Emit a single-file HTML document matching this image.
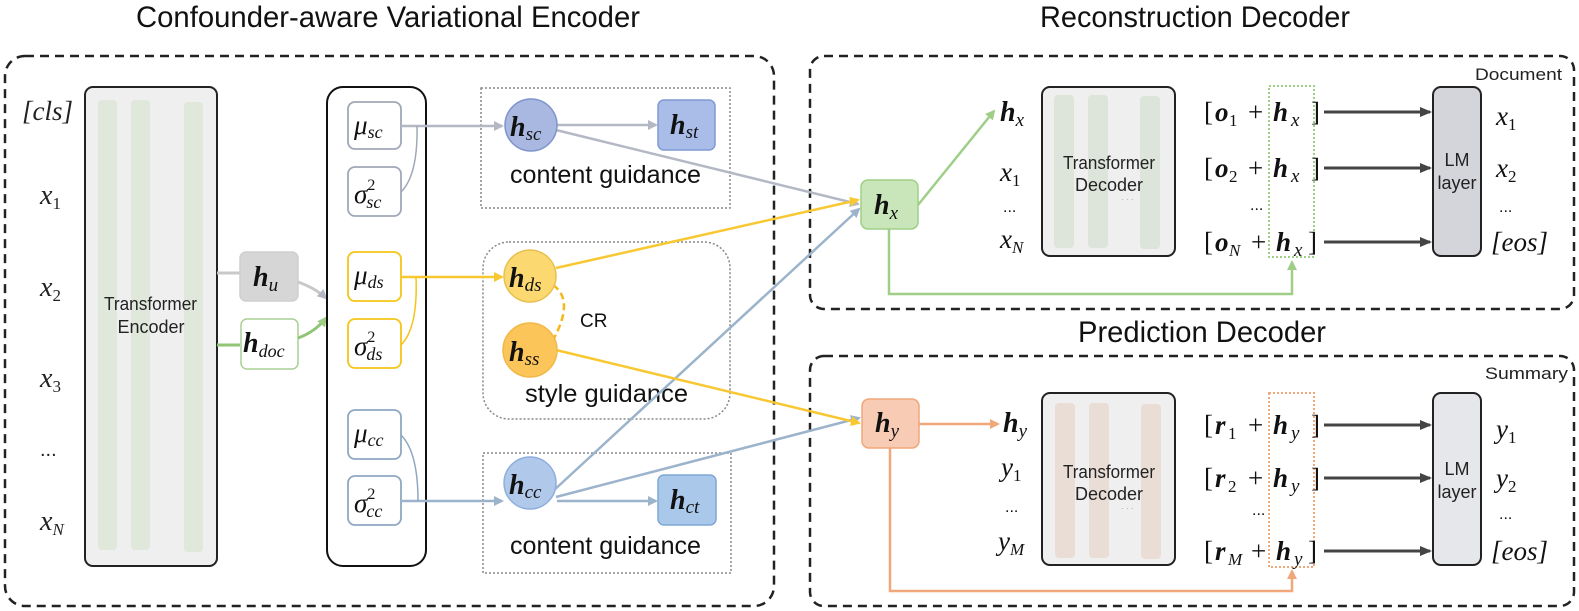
<!DOCTYPE html>
<html><head><meta charset="utf-8"><style>
html,body{margin:0;padding:0;background:#fff;}
svg{display:block;}
.t{font-family:"Liberation Sans Narrow","Liberation Sans",sans-serif;}
.m{font-family:"Liberation Serif",serif;font-style:italic;}
.n{font-family:"Liberation Serif",serif;font-style:normal;}
.b{font-family:"Liberation Serif",serif;font-style:italic;font-weight:bold;}
</style></head><body>
<svg width="1579" height="611" viewBox="0 0 1579 611" xmlns="http://www.w3.org/2000/svg">
<defs>
<marker id="ag" markerWidth="10" markerHeight="10" refX="8" refY="5" orient="auto" markerUnits="userSpaceOnUse"><path d="M0,0 L10,5 L0,10 z" fill="#b3b8c4"/></marker>
<marker id="ay" markerWidth="10" markerHeight="10" refX="8" refY="5" orient="auto" markerUnits="userSpaceOnUse"><path d="M0,0 L10,5 L0,10 z" fill="#f7c832"/></marker>
<marker id="ab" markerWidth="10" markerHeight="10" refX="8" refY="5" orient="auto" markerUnits="userSpaceOnUse"><path d="M0,0 L10,5 L0,10 z" fill="#9cb3cc"/></marker>
<marker id="agr" markerWidth="10" markerHeight="10" refX="8" refY="5" orient="auto" markerUnits="userSpaceOnUse"><path d="M0,0 L10,5 L0,10 z" fill="#9fcf86"/></marker>
<marker id="ao" markerWidth="10" markerHeight="10" refX="8" refY="5" orient="auto" markerUnits="userSpaceOnUse"><path d="M0,0 L10,5 L0,10 z" fill="#f0a77a"/></marker>
<marker id="ad" markerWidth="12" markerHeight="10" refX="10" refY="5" orient="auto" markerUnits="userSpaceOnUse"><path d="M0,0 L12,5 L0,10 z" fill="#444"/></marker>
</defs>

<text class="t" x="136" y="27" font-size="30" textLength="504" lengthAdjust="spacingAndGlyphs" fill="#111">Confounder-aware Variational Encoder</text>
<text class="t" x="1040" y="27" font-size="30" textLength="310" lengthAdjust="spacingAndGlyphs" fill="#111">Reconstruction Decoder</text>
<text class="t" x="1078" y="342" font-size="30" textLength="248" lengthAdjust="spacingAndGlyphs" fill="#111">Prediction Decoder</text>

<rect x="5" y="56" width="769" height="550" rx="20" fill="none" stroke="#222" stroke-width="2.5" stroke-dasharray="9,6"/>
<rect x="810" y="56" width="764" height="253" rx="14" fill="none" stroke="#222" stroke-width="2.5" stroke-dasharray="9,6"/>
<rect x="810" y="356" width="764" height="250" rx="14" fill="none" stroke="#222" stroke-width="2.5" stroke-dasharray="9,6"/>
<text class="t" x="1475" y="80" font-size="17" textLength="87" lengthAdjust="spacingAndGlyphs" fill="#222">Document</text>
<text class="t" x="1485" y="379" font-size="17" textLength="83" lengthAdjust="spacingAndGlyphs" fill="#222">Summary</text>

<rect x="85" y="87" width="132" height="479" rx="8" fill="#efefef" stroke="#222" stroke-width="2"/>
<rect x="98" y="100" width="19" height="450" rx="4" fill="#e0e8dc"/>
<rect x="131" y="100" width="19" height="450" rx="4" fill="#e0e8dc"/>
<rect x="184" y="102" width="19" height="450" rx="4" fill="#e0e8dc"/>
<text class="t" x="104" y="310" font-size="18" textLength="93" lengthAdjust="spacingAndGlyphs" fill="#222">Transformer</text>
<text class="t" x="151" y="333" font-size="18" text-anchor="middle" fill="#222">Encoder</text>

<text class="m" x="22" y="120" font-size="27" fill="#222">[cls]</text>
<text class="m" x="40" y="204" font-size="28" fill="#222">x<tspan class="n" font-size="17" dy="5">1</tspan></text>
<text class="m" x="40" y="296" font-size="28" fill="#222">x<tspan class="n" font-size="17" dy="5">2</tspan></text>
<text class="m" x="40" y="387" font-size="28" fill="#222">x<tspan class="n" font-size="17" dy="5">3</tspan></text>
<text class="t" x="40" y="456" font-size="20" fill="#222">...</text>
<text class="m" x="40" y="530" font-size="28" fill="#222">x<tspan font-size="17" dy="5">N</tspan></text>

<line x1="217" y1="273" x2="240" y2="273" stroke="#c8c8c8" stroke-width="3"/>
<line x1="217" y1="345" x2="240" y2="345" stroke="#8fc574" stroke-width="3"/>
<rect x="240" y="252" width="58" height="49" rx="6" fill="#d6d6d6" stroke="#cfcfcf" stroke-width="1.5"/>
<text class="b" x="253" y="286" font-size="28" fill="#111">h<tspan class="m" font-weight="normal" font-size="19" dy="5">u</tspan></text>
<rect x="241" y="319" width="57" height="50" rx="6" fill="#fff" stroke="#a9d095" stroke-width="1.5"/>
<text class="b" x="243" y="352" font-size="28" fill="#111">h<tspan class="m" font-weight="normal" font-size="18" dy="5">doc</tspan></text>
<path d="M298,282 Q315,288 326,298" fill="none" stroke="#c8c8c8" stroke-width="3" marker-end="url(#ag)"/>
<path d="M298,338 Q315,332 326,318" fill="none" stroke="#8fc574" stroke-width="3" marker-end="url(#agr)"/>

<rect x="327" y="87" width="99" height="479" rx="16" fill="#fff" stroke="#111" stroke-width="2"/>
<g fill="#fff" stroke-width="1.8">
<rect x="348" y="102" width="53" height="47" rx="7" stroke="#a0a8b8"/>
<rect x="348" y="167" width="53" height="49" rx="7" stroke="#a0a8b8"/>
<rect x="348" y="252" width="53" height="49" rx="7" stroke="#f5c518"/>
<rect x="348" y="319" width="53" height="49" rx="7" stroke="#f5c518"/>
<rect x="348" y="410" width="53" height="49" rx="7" stroke="#8ea8c2"/>
<rect x="348" y="476" width="53" height="49" rx="7" stroke="#8ea8c2"/>
</g>
<g class="m" font-size="27" fill="#111">
<text x="354" y="134">μ<tspan font-size="18" dy="4">sc</tspan></text>
<text x="354" y="203">σ<tspan class="n" font-size="16" dy="-13">2</tspan><tspan font-size="18" dx="-9" dy="18">sc</tspan></text>
<text x="354" y="284">μ<tspan font-size="18" dy="4">ds</tspan></text>
<text x="354" y="355">σ<tspan class="n" font-size="16" dy="-13">2</tspan><tspan font-size="18" dx="-9" dy="18">ds</tspan></text>
<text x="354" y="442">μ<tspan font-size="18" dy="4">cc</tspan></text>
<text x="354" y="512">σ<tspan class="n" font-size="16" dy="-13">2</tspan><tspan font-size="18" dx="-9" dy="18">cc</tspan></text>
</g>

<rect x="481" y="88" width="249" height="120" fill="none" stroke="#888" stroke-width="1.5" stroke-dasharray="2,2"/>
<rect x="483" y="242" width="247" height="177" rx="26" fill="none" stroke="#888" stroke-width="1.5" stroke-dasharray="2,2"/>
<rect x="483" y="453" width="248" height="120" fill="none" stroke="#888" stroke-width="1.5" stroke-dasharray="2,2"/>
<text class="t" x="510" y="183" font-size="25" textLength="191" lengthAdjust="spacingAndGlyphs" fill="#111">content guidance</text>
<text class="t" x="525" y="402" font-size="25" textLength="163" lengthAdjust="spacingAndGlyphs" fill="#111">style guidance</text>
<text class="t" x="510" y="554" font-size="25" textLength="191" lengthAdjust="spacingAndGlyphs" fill="#111">content guidance</text>

<line x1="401" y1="126" x2="502" y2="126" stroke="#b3b8c4" stroke-width="2.5" marker-end="url(#ag)"/>
<path d="M401,192 Q418,175 417,126" fill="none" stroke="#a0a8b8" stroke-width="1.5"/>
<line x1="401" y1="277" x2="502" y2="277" stroke="#f7c832" stroke-width="2.5" marker-end="url(#ay)"/>
<path d="M401,345 Q418,328 416,277" fill="none" stroke="#f5c518" stroke-width="1.5"/>
<line x1="401" y1="501" x2="502" y2="501" stroke="#9cb3cc" stroke-width="2.5" marker-end="url(#ab)"/>
<path d="M401,435 Q418,452 418,501" fill="none" stroke="#8ea8c2" stroke-width="1.5"/>
<line x1="557" y1="125" x2="656" y2="125" stroke="#b3b8c4" stroke-width="2.5" marker-end="url(#ag)"/>
<line x1="557" y1="501" x2="656" y2="501" stroke="#9cb3cc" stroke-width="2.5" marker-end="url(#ab)"/>

<line x1="556" y1="130" x2="858" y2="204" stroke="#b3b8c4" stroke-width="2.5" marker-end="url(#ag)"/>
<line x1="556" y1="268" x2="858" y2="200" stroke="#f7c832" stroke-width="2.5" marker-end="url(#ay)"/>
<line x1="552" y1="492" x2="859" y2="209" stroke="#9cb3cc" stroke-width="2.5" marker-end="url(#ab)"/>
<line x1="556" y1="497" x2="859" y2="418" stroke="#9cb3cc" stroke-width="2.5" marker-end="url(#ab)"/>
<line x1="556" y1="350" x2="859" y2="423" stroke="#f7c832" stroke-width="2.5" marker-end="url(#ay)"/>

<circle cx="531" cy="125" r="26" fill="#a9b8e0" stroke="#7f94cc" stroke-width="1.5"/>
<text class="b" x="510" y="136" font-size="28" fill="#111">h<tspan class="m" font-weight="normal" font-size="19" dy="4">sc</tspan></text>
<rect x="658" y="100" width="57" height="50" rx="6" fill="#a9bde8" stroke="#7f9ad4" stroke-width="1.5"/>
<text class="b" x="670" y="134" font-size="28" fill="#111">h<tspan class="m" font-weight="normal" font-size="19" dy="4">st</tspan></text>

<path d="M553,285 Q575,300 553,340" fill="none" stroke="#f5b818" stroke-width="2.5" stroke-dasharray="7,4"/>
<circle cx="530" cy="276" r="26" fill="#fbd870" stroke="#e8c050" stroke-width="1.5"/>
<text class="b" x="509" y="287" font-size="28" fill="#111">h<tspan class="m" font-weight="normal" font-size="19" dy="4">ds</tspan></text>
<circle cx="530" cy="350" r="27" fill="#fcc55a" stroke="#f0b848" stroke-width="1.5"/>
<text class="b" x="509" y="361" font-size="28" fill="#111">h<tspan class="m" font-weight="normal" font-size="19" dy="4">ss</tspan></text>
<text class="t" x="580" y="327" font-size="19" fill="#111">CR</text>

<circle cx="530" cy="483" r="26" fill="#b0c8ea" stroke="#8eaedc" stroke-width="1.5"/>
<text class="b" x="509" y="494" font-size="28" fill="#111">h<tspan class="m" font-weight="normal" font-size="19" dy="4">cc</tspan></text>
<rect x="658" y="475" width="58" height="50" rx="6" fill="#a9c8ea" stroke="#7fa8d4" stroke-width="1.5"/>
<text class="b" x="670" y="509" font-size="28" fill="#111">h<tspan class="m" font-weight="normal" font-size="19" dy="4">ct</tspan></text>

<rect x="861" y="180" width="57" height="49" rx="7" fill="#c9e6bb" stroke="#9fcf86" stroke-width="1.5"/>
<text class="b" x="874" y="214" font-size="28" fill="#111">h<tspan class="m" font-weight="normal" font-size="19" dy="5">x</tspan></text>
<line x1="918" y1="205" x2="994" y2="111" stroke="#9fcf86" stroke-width="2.5" marker-end="url(#agr)"/>
<polyline points="889,229 889,294 1292,294 1292,262" fill="none" stroke="#9fcf86" stroke-width="2.5" marker-end="url(#agr)"/>

<text class="b" x="1000" y="121" font-size="28" fill="#111">h<tspan class="m" font-weight="normal" font-size="19" dy="5">x</tspan></text>
<text class="m" x="1000" y="181" font-size="27" fill="#111">x<tspan class="n" font-size="17" dy="5">1</tspan></text>
<text class="t" x="1003" y="212" font-size="16" fill="#111">...</text>
<text class="m" x="1000" y="248" font-size="27" fill="#111">x<tspan font-size="17" dy="5">N</tspan></text>

<rect x="1042" y="87" width="133" height="169" rx="8" fill="#efefef" stroke="#222" stroke-width="2"/>
<rect x="1054" y="95" width="20" height="153" rx="4" fill="#dde5da"/>
<rect x="1088" y="95" width="20" height="153" rx="4" fill="#dde5da"/>
<rect x="1140" y="96" width="20" height="153" rx="4" fill="#dde5da"/>
<text class="t" x="1063" y="169" font-size="18" textLength="92" lengthAdjust="spacingAndGlyphs" fill="#222">Transformer</text>
<text class="t" x="1109" y="191" font-size="18" text-anchor="middle" fill="#222">Decoder</text>
<text class="t" x="1121" y="200" font-size="9" fill="#aaa">. . .</text>

<rect x="1269" y="86" width="45" height="171" fill="none" stroke="#9fcf86" stroke-width="2" stroke-dasharray="2,2"/>
<g font-size="27" fill="#111">
<text class="n" x="1204" y="121">[</text><text class="b" x="1215" y="121">o</text><text class="n" x="1229" y="126" font-size="17">1</text><text class="n" x="1248" y="121">+</text><text class="b" x="1273" y="121">h</text><text class="m" x="1291" y="126" font-size="19">x</text><text class="n" x="1311" y="121">]</text>
<text class="n" x="1204" y="177">[</text><text class="b" x="1215" y="177">o</text><text class="n" x="1229" y="182" font-size="17">2</text><text class="n" x="1248" y="177">+</text><text class="b" x="1273" y="177">h</text><text class="m" x="1291" y="182" font-size="19">x</text><text class="n" x="1311" y="177">]</text>
<text class="t" x="1250" y="210" font-size="16">...</text>
<text class="n" x="1204" y="251">[</text><text class="b" x="1215" y="251">o</text><text class="m" x="1229" y="256" font-size="17">N</text><text class="n" x="1251" y="251">+</text><text class="b" x="1276" y="251">h</text><text class="m" x="1294" y="256" font-size="19">x</text><text class="n" x="1308" y="251">]</text>
</g>
<line x1="1324" y1="112" x2="1430" y2="112" stroke="#444" stroke-width="3" marker-end="url(#ad)"/>
<line x1="1324" y1="168" x2="1430" y2="168" stroke="#444" stroke-width="3" marker-end="url(#ad)"/>
<line x1="1324" y1="242" x2="1430" y2="242" stroke="#444" stroke-width="3" marker-end="url(#ad)"/>
<rect x="1433" y="87" width="48" height="169" rx="8" fill="#d3d5da" stroke="#222" stroke-width="2"/>
<text class="t" x="1457" y="166" font-size="18" text-anchor="middle" fill="#222">LM</text>
<text class="t" x="1457" y="189" font-size="18" text-anchor="middle" fill="#222">layer</text>
<text class="m" x="1496" y="125" font-size="27" fill="#111">x<tspan class="n" font-size="17" dy="5">1</tspan></text>
<text class="m" x="1496" y="177" font-size="27" fill="#111">x<tspan class="n" font-size="17" dy="5">2</tspan></text>
<text class="t" x="1499" y="212" font-size="16" fill="#111">...</text>
<text class="m" x="1491" y="251" font-size="27" fill="#111">[eos]</text>

<rect x="862" y="399" width="57" height="49" rx="7" fill="#f8cbb4" stroke="#f0a77a" stroke-width="1.5"/>
<text class="b" x="875" y="432" font-size="28" fill="#111">h<tspan class="m" font-weight="normal" font-size="19" dy="5">y</tspan></text>
<line x1="919" y1="424" x2="998" y2="424" stroke="#f0a77a" stroke-width="2.5" marker-end="url(#ao)"/>
<polyline points="890,448 890,591 1292,591 1292,571" fill="none" stroke="#f0a77a" stroke-width="2.5" marker-end="url(#ao)"/>

<text class="b" x="1003" y="432" font-size="28" fill="#111">h<tspan class="m" font-weight="normal" font-size="19" dy="5">y</tspan></text>
<text class="m" x="1001" y="476" font-size="27" fill="#111">y<tspan class="n" font-size="17" dy="5">1</tspan></text>
<text class="t" x="1005" y="512" font-size="16" fill="#111">...</text>
<text class="m" x="998" y="550" font-size="27" fill="#111">y<tspan font-size="17" dy="5">M</tspan></text>

<rect x="1042" y="393" width="133" height="172" rx="8" fill="#efefef" stroke="#222" stroke-width="2"/>
<rect x="1055" y="403" width="20" height="155" rx="4" fill="#eaddd6"/>
<rect x="1089" y="403" width="20" height="155" rx="4" fill="#eaddd6"/>
<rect x="1141" y="404" width="20" height="155" rx="4" fill="#eaddd6"/>
<text class="t" x="1063" y="478" font-size="18" textLength="92" lengthAdjust="spacingAndGlyphs" fill="#222">Transformer</text>
<text class="t" x="1109" y="500" font-size="18" text-anchor="middle" fill="#222">Decoder</text>
<text class="t" x="1121" y="509" font-size="9" fill="#aaa">. . .</text>

<rect x="1269" y="393" width="45" height="174" fill="none" stroke="#f0a77a" stroke-width="2" stroke-dasharray="2,2"/>
<g font-size="27" fill="#111">
<text class="n" x="1204" y="434">[</text><text class="b" x="1215" y="434">r</text><text class="n" x="1228" y="439" font-size="17">1</text><text class="n" x="1248" y="434">+</text><text class="b" x="1273" y="434">h</text><text class="m" x="1291" y="439" font-size="19">y</text><text class="n" x="1311" y="434">]</text>
<text class="n" x="1204" y="487">[</text><text class="b" x="1215" y="487">r</text><text class="n" x="1228" y="492" font-size="17">2</text><text class="n" x="1248" y="487">+</text><text class="b" x="1273" y="487">h</text><text class="m" x="1291" y="492" font-size="19">y</text><text class="n" x="1311" y="487">]</text>
<text class="t" x="1252" y="515" font-size="16">...</text>
<text class="n" x="1204" y="560">[</text><text class="b" x="1215" y="560">r</text><text class="m" x="1228" y="565" font-size="17">M</text><text class="n" x="1251" y="560">+</text><text class="b" x="1276" y="560">h</text><text class="m" x="1294" y="565" font-size="19">y</text><text class="n" x="1308" y="560">]</text>
</g>
<line x1="1324" y1="425" x2="1430" y2="425" stroke="#444" stroke-width="3" marker-end="url(#ad)"/>
<line x1="1324" y1="478" x2="1430" y2="478" stroke="#444" stroke-width="3" marker-end="url(#ad)"/>
<line x1="1324" y1="551" x2="1430" y2="551" stroke="#444" stroke-width="3" marker-end="url(#ad)"/>
<rect x="1433" y="393" width="48" height="172" rx="8" fill="#e6e7ea" stroke="#222" stroke-width="2"/>
<text class="t" x="1457" y="475" font-size="18" text-anchor="middle" fill="#222">LM</text>
<text class="t" x="1457" y="498" font-size="18" text-anchor="middle" fill="#222">layer</text>
<text class="m" x="1496" y="438" font-size="27" fill="#111">y<tspan class="n" font-size="17" dy="5">1</tspan></text>
<text class="m" x="1496" y="487" font-size="27" fill="#111">y<tspan class="n" font-size="17" dy="5">2</tspan></text>
<text class="t" x="1499" y="519" font-size="16" fill="#111">...</text>
<text class="m" x="1491" y="560" font-size="27" fill="#111">[eos]</text>
</svg>
</body></html>
